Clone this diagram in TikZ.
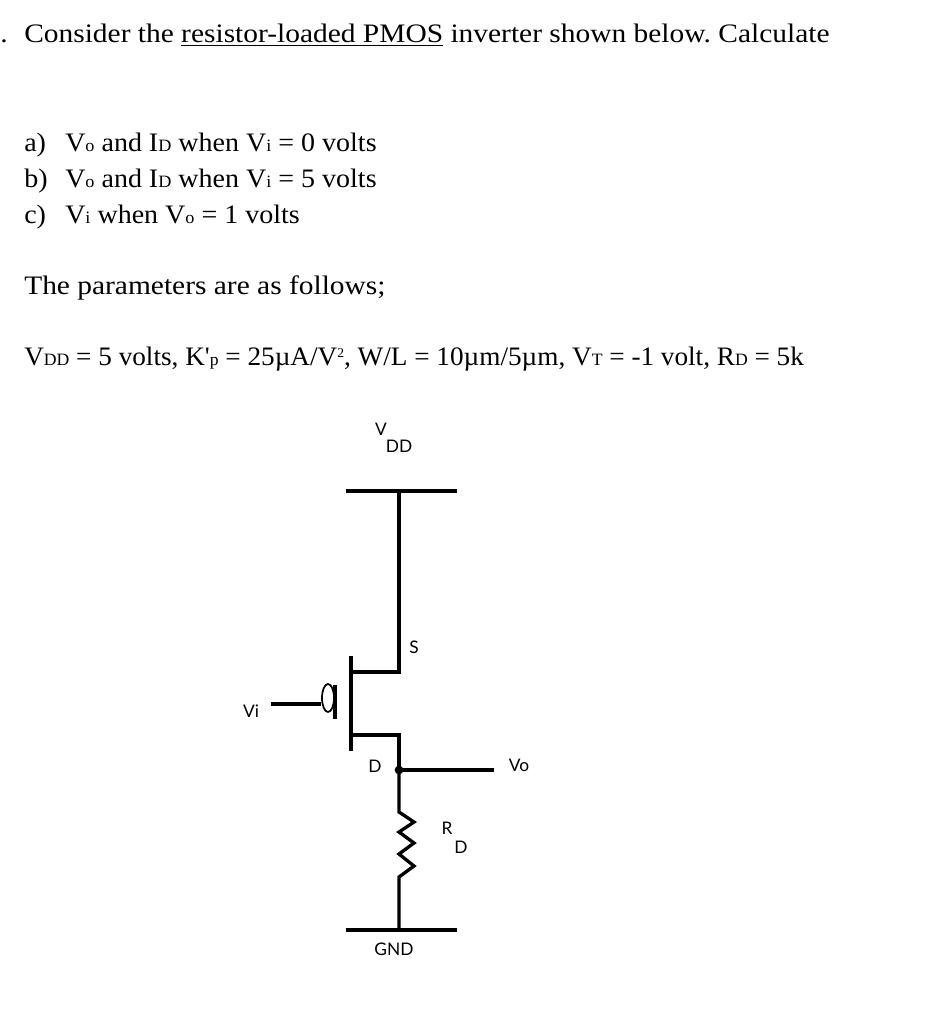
\documentclass[tikz,border=0pt]{standalone}
\usepackage{fontspec}
\setmainfont[FakeStretch=1.104]{Liberation Serif}
\newfontfamily\partfont[FakeStretch=1.05]{Liberation Serif}
\newfontfamily\paramfont[FakeStretch=1.02]{Liberation Serif}
\newfontfamily\labelfont{Lato}
\usepackage{tikz}
\usetikzlibrary{positioning}
\usetikzlibrary{calc}
\usetikzlibrary{shapes.geometric}
\newcommand{\smalltext}[1]{{\fontsize{13}{13}\selectfont #1}}
\newcommand{\tinytext}[1]{{\fontsize{10}{10}\selectfont #1}}
\newcommand{\partlabel}[1]{\makebox[30.75pt][l]{#1}}
\tikzset{
    textline/.style={anchor=base west, inner sep=0pt, font=\fontsize{20}{22}\selectfont},
    cirlabel/.style={inner sep=0pt, font=\labelfont\fontsize{13}{13}\selectfont},
    wire/.style={line width=2.5pt, line cap=butt, line join=miter},
}
\begin{document}
\frenchspacing
\begin{tikzpicture}[x=0.75pt, y=-0.75pt]
    \useasboundingbox (0,0) rectangle (950,1024);
    % question text
    \node [textline] (dot) at (0,43) {.};
    \node [textline] (title) at (24,43) {Consider the \underline{resistor-loaded PMOS} inverter shown below. Calculate};
    \node [textline] (parta) at (24,151) {\partfont\partlabel{a)}V\smalltext{o} and I\smalltext{D} when V\smalltext{i} = 0 volts};
    \node [textline] (partb) at (24,187) {\partfont\partlabel{b)}V\smalltext{o} and I\smalltext{D} when V\smalltext{i} = 5 volts};
    \node [textline] (partc) at (24,223) {\partfont\partlabel{c)}V\smalltext{i} when V\smalltext{o} = 1 volts};
    \node [textline] (follows) at (24,294) {The parameters are as follows;};
    \node [textline] (params) at (24,365) {\paramfont V\smalltext{DD} = 5 volts, K'\smalltext{p} = 25µA/V\raisebox{6pt}{\tinytext{2}}, W/L = 10µm/5µm, V\smalltext{T} = -1 volt, R\smalltext{D} = 5k};

    % rails and junction points
    \coordinate (vddl) at (346,491);
    \coordinate (vddr) at (457,491);
    \coordinate (vddm) at (399,491);
    \coordinate (gndl) at (346,930);
    \coordinate (gndr) at (457,930);
    \coordinate (gndm) at (399,930);
    \coordinate (src) at (399,672);
    \coordinate (srcg) at (351,672);
    \coordinate (drn) at (399,735);
    \coordinate (drng) at (351,735);
    \coordinate (bart) at (351,656);
    \coordinate (barb) at (351,751);
    \coordinate (gatet) at (335,685);
    \coordinate (gateb) at (335,719);
    \coordinate (vin) at (271,704);
    \coordinate (vout) at (494,770);
    \coordinate (rtop) at (399,812);
    \coordinate (rbot) at (399,877);
    \node [circle, fill, inner sep=0pt, minimum size=6.5pt] (out) at (399,770) {};
    \node [ellipse, draw, line width=1.3pt, inner sep=0pt, minimum width=9pt, minimum height=21pt] (bub) at (328,698) {};

    \draw [wire] (vddl) -- (vddr);
    \draw [wire] (gndl) -- (gndr);
    \draw [wire] (vddm) -- (src) -- (srcg);
    \draw [wire] (bart) -- (barb);
    \draw [wire] (gatet) -- (gateb);
    \draw [wire] (vin) -- (vin -| bub.west);
    \draw [wire] (drng) -- (drn) -- (out.center);
    \draw [wire] (out.center) -- (vout);
    \draw [wire] (out.center) -- (rtop) -- ++(15,10) -- ++(-15,10) -- ++(15,11) -- ++(-15,11) -- ++(15,12) -- (rbot) -- (gndm);

    % circuit labels
    \node [cirlabel] (lv) at (381,429) {V};
    \node [cirlabel] (ldd) at (399,446) {DD};
    \node [cirlabel] (ls) at (414,647) {S};
    \node [cirlabel] (lvi) at (251,711) {Vi};
    \node [cirlabel] (ld) at (375,766) {D};
    \node [cirlabel] (lvo) at (519,765) {Vo};
    \node [cirlabel] (lr) at (447,828) {R};
    \node [cirlabel] (lrd) at (461,847) {D};
    \node [cirlabel] (lgnd) at (394,949) {GND};
\end{tikzpicture}
\end{document}
